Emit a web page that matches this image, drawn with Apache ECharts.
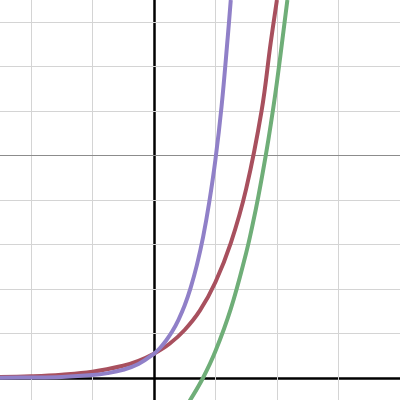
<!DOCTYPE html>
<html>
<head>
<meta charset="utf-8">
<script src="https://cdn.jsdelivr.net/npm/echarts@6/dist/echarts.min.js"></script>
<style>html,body{margin:0;padding:0;background:#fff}#c{width:400px;height:400px}</style>
</head>
<body>
<div id="c"></div>
<script>
// curve samples [x, y]
const purple = [[-2.5,0.004],[-2,0.013],[-1.5,0.04],[-1,0.12],[-0.75,0.21],[-0.5,0.36],[-0.25,0.62],[0,1.08],[0.1,1.34],[0.2,1.68],[0.3,2.09],[0.4,2.61],[0.5,3.25],[0.6,4.07],[0.7,5.08],[0.8,6.33],[0.9,7.9],[1,9.8],[1.1,12.2],[1.2,15.3],[1.25,17]];
const red = [[-2.5,0.035],[-2,0.07],[-1.5,0.14],[-1,0.27],[-0.5,0.54],[-0.25,0.76],[0,1.08],[0.25,1.52],[0.5,2.15],[0.75,3.03],[1,4.3],[1.25,6.06],[1.5,8.5],[1.75,12],[1.9,15.1],[2,17]];
const green = [[0.5,-1.37],[0.6,-0.96],[0.8,0],[1,1.19],[1.25,3.1],[1.5,5.62],[1.6,6.83],[1.7,8.19],[1.82,10.03],[1.9,11.4],[2,13.3],[2.17,17]];
const xGrid = [-2, -1, 1, 2, 3];
const yGrid = [2, 4, 6, 8, 12, 14, 16];
const yMajor = [10];

var myChart = echarts.init(document.getElementById('c'));

function gridLines() {
    const d = [];
    xGrid.forEach(v => d.push({ xAxis: v, lineStyle: { color: '#d4d4d4', width: 1, type: 'solid' } }));
    yGrid.forEach(v => d.push({ yAxis: v, lineStyle: { color: '#d4d4d4', width: 1, type: 'solid' } }));
    yMajor.forEach(v => d.push({ yAxis: v, lineStyle: { color: '#8c8c8c', width: 1.2, type: 'solid' } }));
    return d;
}

function curve(data, color, z, withGrid) {
    return {
        type: 'line', data: data, smooth: 0.4, showSymbol: false, z: z,
        lineStyle: { color: color, width: 4 },
        markLine: withGrid ? { silent: true, symbol: 'none', label: { show: false }, z: 1, data: gridLines() } : undefined
    };
}

var option = {
    animation: false,
    grid: { left: 0, right: 0, top: 0, bottom: 0 },
    xAxis: {
        type: 'value', min: -2.5, max: 4,
        axisLine: { onZero: true, lineStyle: { color: '#000', width: 2.5 } },
        axisTick: { show: false }, axisLabel: { show: false }, splitLine: { show: false }
    },
    yAxis: {
        type: 'value', min: -1, max: 17,
        axisLine: { show: true, onZero: true, lineStyle: { color: '#000', width: 2.5 } },
        axisTick: { show: false }, axisLabel: { show: false }, splitLine: { show: false }
    },
    series: [
        curve(green, '#6fae78', 3, true),
        curve(red, '#a8505e', 4, false),
        curve(purple, '#9080c8', 5, false)
    ]
};
myChart.setOption(option);
</script>
</body>
</html>
